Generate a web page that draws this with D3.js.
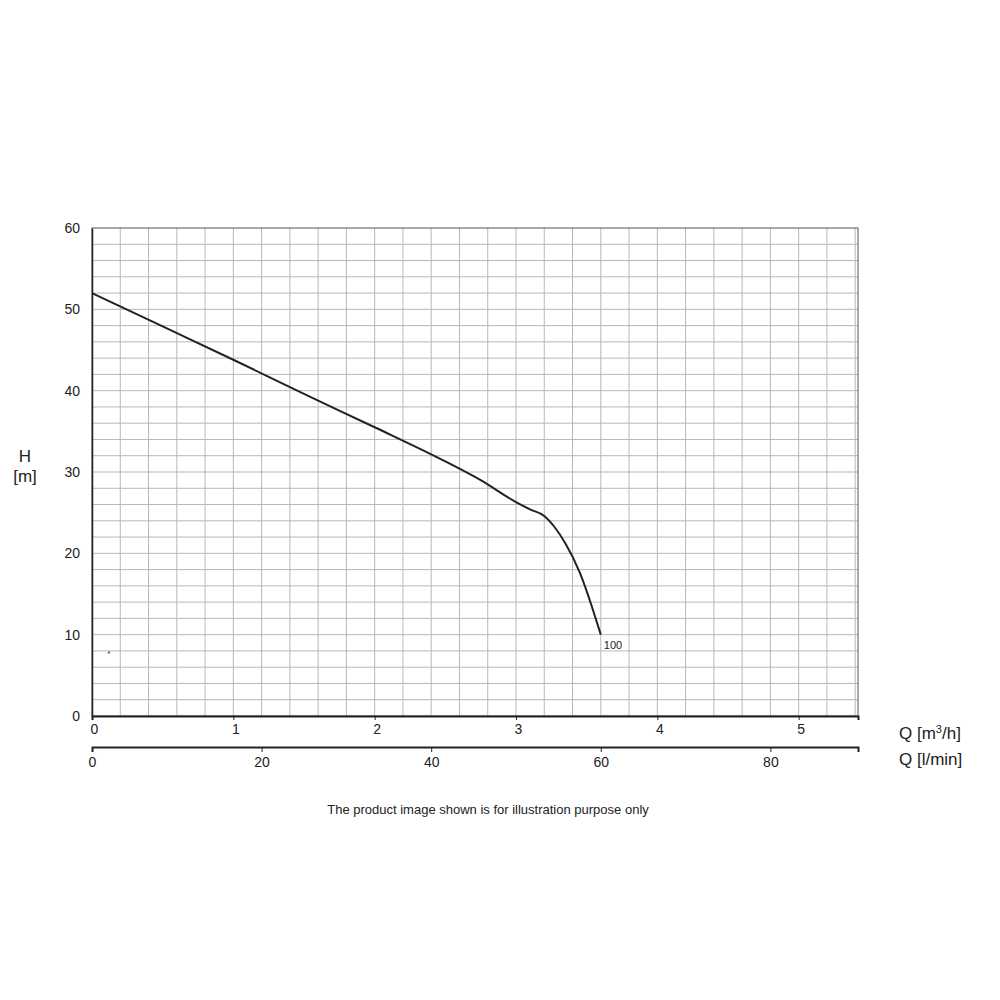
<!DOCTYPE html>
<html>
<head>
<meta charset="utf-8">
<script src="https://cdn.jsdelivr.net/npm/d3@7"></script>
<style>
	body { margin: 0; background: #fff; }
	text { font-family: Arial, "Liberation Sans", sans-serif; fill: #222; }
</style>
</head>
<body>
<svg id="chart" width="1000" height="1000"></svg>
<script>
// pump curve, Q in m3/h, H in m
var flowM3h = [0, 0.5, 1, 1.5, 2, 2.5, 2.75, 3, 3.1, 3.2, 3.27, 3.35, 3.45, 3.6];
var headM = [52, 47.9, 43.8, 39.6, 35.5, 31.3, 29.0, 26.3, 25.4, 24.6, 23.3, 21.2, 17.7, 10];
var m3hTicks = [0, 1, 2, 3, 4, 5];
var lpmTicks = [0, 20, 40, 60, 80];
var headTicks = [0, 10, 20, 30, 40, 50, 60];
var curveLabel = "100";

var svg = d3.select("#chart"),
	plotLeft = 92, plotRight = 858, plotTop = 228, plotBottom = 716;

var x = d3.scaleLinear().domain([0, 5.42]).range([plotLeft, plotRight]),
	xl = d3.scaleLinear().domain([0, 5.42 * 50 / 3]).range([plotLeft, plotRight]),
	y = d3.scaleLinear().domain([0, 60]).range([plotBottom, plotTop]);

// grid
var g = svg.append("g").attr("stroke", "#b8b8b8").attr("stroke-width", 1);
g.selectAll("line.v").data(d3.range(1, 28).map(function (i) { return i * 0.2; }))
	.enter().append("line")
	.attr("x1", x).attr("x2", x).attr("y1", plotTop).attr("y2", plotBottom);
g.selectAll("line.h").data(d3.range(1, 30).map(function (i) { return i * 2; }))
	.enter().append("line")
	.attr("x1", plotLeft).attr("x2", plotRight).attr("y1", y).attr("y2", y);
svg.append("rect").attr("x", plotLeft).attr("y", plotTop)
	.attr("width", plotRight - plotLeft).attr("height", plotBottom - plotTop)
	.attr("fill", "none").attr("stroke", "#555");

// axes
var yAxis = svg.append("g").attr("transform", "translate(" + plotLeft + ",0)")
	.call(d3.axisLeft(y).tickValues(headTicks).tickFormat(d3.format("d")).tickSize(0).tickPadding(12));
var xAxis = svg.append("g").attr("transform", "translate(0," + plotBottom + ")")
	.call(d3.axisBottom(x).tickValues(m3hTicks).tickFormat(d3.format("d")).tickSize(4).tickPadding(4));
var xlAxis = svg.append("g").attr("transform", "translate(0,747)")
	.call(d3.axisBottom(xl).tickValues(lpmTicks).tickFormat(d3.format("d")).tickSize(5).tickPadding(5));
[yAxis, xAxis, xlAxis].forEach(function (a) {
	a.selectAll("text").style("font-size", "14px").attr("fill", "#222");
	a.select(".domain").attr("stroke", "#222").attr("stroke-width", 2);
	a.selectAll(".tick line").attr("stroke", "#222");
});
yAxis.select(".domain").attr("stroke-width", 1.5);
xAxis.selectAll(".tick text").attr("dx", 2);

// curve
var line = d3.line().x(function (d) { return x(d[0]); }).y(function (d) { return y(d[1]); })
	.curve(d3.curveMonotoneX);
svg.append("path").datum(d3.zip(flowM3h, headM)).attr("d", line)
	.attr("fill", "none").attr("stroke", "#222").attr("stroke-width", 2);
var last = flowM3h.length - 1;
svg.append("text").attr("x", x(flowM3h[last]) + 3).attr("y", y(headM[last]) + 14)
	.style("font-size", "11px").text(curveLabel);
svg.append("circle").attr("cx", x(0.12)).attr("cy", y(7.8)).attr("r", 1.2).attr("fill", "#777");

// titles
svg.append("text").attr("x", 25).attr("y", 462).attr("text-anchor", "middle").style("font-size", "17px").text("H");
svg.append("text").attr("x", 25).attr("y", 482).attr("text-anchor", "middle").style("font-size", "17px").text("[m]");
var q1 = svg.append("text").attr("x", 899).attr("y", 739).style("font-size", "17px").text("Q [m");
q1.append("tspan").attr("dy", -6).style("font-size", "11px").text("3");
q1.append("tspan").attr("dy", 6).text("/h]");
svg.append("text").attr("x", 899).attr("y", 765).style("font-size", "17px").text("Q [l/min]");
svg.append("text").attr("x", 488).attr("y", 814).attr("text-anchor", "middle")
	.style("font-size", "13px").text("The product image shown is for illustration purpose only");
</script>
</body>
</html>
